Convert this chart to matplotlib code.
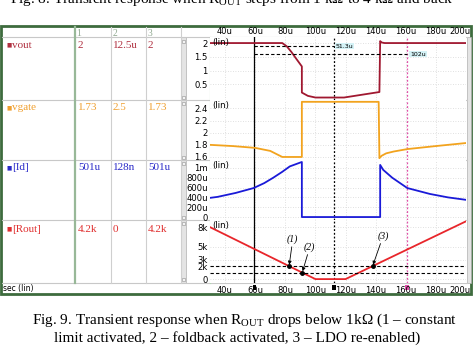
import matplotlib
matplotlib.use('Agg')
import matplotlib.pyplot as plt
import numpy as np
from matplotlib.patches import Rectangle
from matplotlib.transforms import blended_transform_factory, ScaledTranslation

plt.rcParams['mathtext.fontset'] = 'custom'
plt.rcParams['mathtext.rm'] = 'Liberation Serif'
plt.rcParams['mathtext.it'] = 'Liberation Serif:italic'

# --- data (time in us) ---
t_vout = [30, 78, 81, 84, 87, 91, 91, 95, 100, 119, 142.5, 143, 144, 146, 200]
vout = [2.0, 2.0, 1.88, 1.68, 1.45, 1.15, 0.2, 0.08, 0.02, 0.02, 0.22, 2.07, 2.02, 2.0, 2.0]

t_vgate = [30, 45, 60, 70, 78, 91, 91, 142, 142.5, 144, 147, 152, 161, 180, 200]
vgate = [1.80, 1.78, 1.75, 1.70, 1.60, 1.60, 2.51, 2.51, 1.58, 1.62, 1.66, 1.69, 1.73, 1.78, 1.83]

t_id = [30, 35, 47, 59, 66, 72, 78, 83, 91, 91, 143, 143, 145, 151, 161, 176, 188, 200]
id_ma = [0.39, 0.41, 0.49, 0.59, 0.69, 0.80, 0.92, 1.03, 1.12, 0.0, 0.0, 1.06, 0.96, 0.80, 0.59, 0.47, 0.40, 0.35]

t_rout = [30, 100, 120, 200]
rout_k = [8.0, 0.0, 0.0, 8.9]

cursors = [59.5, 112.5, 161]
limits_k = [2, 1]           # constant limit / foldback thresholds
events = ['(1)', '(2)', '(3)']

xticks = [40, 60, 80, 100, 120, 140, 160, 180, 200]
xlabels = ['40u', '60u', '80u', '100u', '120u', '140u', '160u', '180u', '200u']

rows = ['vout', 'vgate', '[Id]', '[Rout]']
row_colors = ['#b03040', '#f0a030', '#2a2ac8', '#e03030']
cells = [['2', '12.5u', '2'], ['1.73', '2.5', '1.73'],
         ['501u', '128n', '501u'], ['4.2k', '0', '4.2k']]

W, H = 474, 346
fig = plt.figure(figsize=(W / 100, H / 100), dpi=100)
bg = fig.add_axes([0, 0, 1, 1])
bg.set_xlim(0, W)
bg.set_ylim(H, 0)
bg.axis('off')

serif = ['Liberation Serif', 'DejaVu Serif']

# captions (the top one belongs to the previous figure and is cut off)
bg.text(232, -1.5, 'Fig. 8. Transient response when R$_{\\mathrm{OUT}}$ steps from 1 k\u03a9 to 4 k\u03a9 and back',
        ha='center', va='center', fontsize=11, family=serif)
bg.text(244, 320, 'Fig. 9. Transient response when R$_{\\mathrm{OUT}}$ drops below 1k\u03a9 (1 \u2013 constant',
        ha='center', va='center', fontsize=11, family=serif)
bg.text(237, 338, 'limit activated, 2 \u2013 foldback activated, 3 \u2013 LDO re-enabled)',
        ha='center', va='center', fontsize=11, family=serif)

# frame and table
bg.add_patch(Rectangle((1, 26), 470, 268, fill=False, ec='#3d6b3d', lw=2))
for y in [37, 100, 160, 220, 283]:
    bg.plot([2, 467], [y, y], color='#c8c8c8', lw=0.8)
bg.plot([75, 75], [27, 283], color='#98b898', lw=1.6)
for x in [111, 146, 181]:
    bg.plot([x, x], [27, 283], color='#cfcfcf', lw=0.8)
bg.add_patch(Rectangle((181, 37), 5, 246, fc='#e4e4e4', ec='#b0b0b0', lw=0.5))
bg.add_patch(Rectangle((467, 37), 4, 246, fc='#e4e4e4', ec='#b0b0b0', lw=0.5))
for y in [41, 97, 103, 157, 163, 217, 223, 279]:
    bg.add_patch(Rectangle((182, y - 1.5), 3, 3, fc='#f4f4f4', ec='#909090', lw=0.4))
bg.plot([210, 210], [37, 283], color='#b0d8b0', lw=0.8)

for x, h in zip([79, 115, 150], ['1', '2', '3']):
    bg.text(x, 33, h, ha='center', va='center', fontsize=7, color='#90a890', family=serif)
row_y = [45, 108, 168, 229]
for name, col, vals, y in zip(rows, row_colors, cells, row_y):
    bg.text(7, y, '\u25a0', ha='left', va='center', fontsize=4, color=col, family='DejaVu Sans')
    bg.text(12, y, name, ha='left', va='center', fontsize=8, color=col, family=serif)
    for x, v in zip([78, 113, 148], vals):
        bg.text(x, y, v, ha='left', va='center', fontsize=8, color=col, family=serif)
bg.text(3, 289, 'sec (lin)', ha='left', va='center', fontsize=5.5)


def panel(top, bot, ylim, yt, ytl):
    ax = fig.add_axes([210 / W, 1 - bot / H, 256 / W, (bot - top) / H])
    ax.set_xlim(30, 200)
    ax.set_ylim(*ylim)
    for s in ax.spines.values():
        s.set_visible(False)
    ax.set_xticks(xticks)
    ax.set_xticklabels(xlabels)
    ax.set_yticks(yt)
    ax.set_yticklabels(ytl)
    ax.tick_params(axis='y', length=0, pad=1.5, labelsize=6.1)
    ax.tick_params(axis='x', length=0, labelbottom=False, labelsize=6)
    ax.grid(True, color='#d6d6d6', ls=(0, (1, 2)), lw=0.6)
    ax.text(0.008, 0.985, '(lin)', transform=ax.transAxes, ha='left', va='top', fontsize=6.2)
    ax.axvline(cursors[0], color='k', lw=0.9)
    ax.axvline(cursors[1], color='k', lw=0.9, ls=(0, (1.5, 1.5)))
    ax.axvline(cursors[2], color='#e050a8', lw=0.9, ls=(0, (1.5, 1.5)))
    return ax


ax1 = panel(37, 100, (-0.07, 2.22), [2, 1.5, 1, 0.5], ['2', '1.5', '1', '0.5'])
ax2 = panel(100, 160, (1.55, 2.54), [2.4, 2.2, 2.0, 1.8, 1.6], ['2.4', '2.2', '2', '1.8', '1.6'])
ax3 = panel(160, 220, (-0.06, 1.16), [1, 0.8, 0.6, 0.4, 0.2, 0],
            ['1m', '800u', '600u', '400u', '200u', '0'])
ax4 = panel(220, 283, (-0.6, 9.1), [8, 5, 3, 2, 0], ['8k', '5k', '3k', '2k', '0'])

ax1.tick_params(axis='x', labeltop=True, pad=1)
ax4.tick_params(axis='x', labelbottom=True, pad=2)
shift = ScaledTranslation(-6 / 100, 0, fig.dpi_scale_trans)
for lab in ax1.get_xticklabels()[-1:] + ax4.get_xticklabels()[-1:]:
    lab.set_transform(lab.get_transform() + shift)

ax1.plot(t_vout, vout, color='#a01830', lw=1.3)
ax2.plot(t_vgate, vgate, color='#f2a31e', lw=1.3)
ax3.plot(t_id, id_ma, color='#1a1ad8', lw=1.3)
ax4.plot(t_rout, rout_k, color='#e8262b', lw=1.3)

# delta measurement lines
ax1.plot([cursors[0], cursors[1]], [1.89, 1.89], color='k', lw=0.8, ls=(0, (3, 2)))
ax1.plot([cursors[0], cursors[2]], [1.60, 1.60], color='k', lw=0.8, ls=(0, (3, 2)))
ax1.text(cursors[1] + 1, 1.89, '51.3u', fontsize=4.5, va='center', ha='left',
         bbox=dict(fc='#d4f2f6', ec='none', pad=0.6))
ax1.text(cursors[2] + 2, 1.60, '102u', fontsize=4.5, va='center', ha='left',
         bbox=dict(fc='#d4f2f6', ec='none', pad=0.6))

# threshold lines and events
for lv in limits_k:
    ax4.axhline(lv, color='k', lw=0.8, ls=(0, (3, 2)))
t1 = np.interp(-limits_k[0], [-r for r in rout_k[:2]], t_rout[:2])
t2 = np.interp(-limits_k[1], [-r for r in rout_k[:2]], t_rout[:2])
t3 = np.interp(limits_k[0], rout_k[2:], t_rout[2:])
ev_t = [t1, t2, t3]
ev_r = [limits_k[0], limits_k[1], limits_k[0]]
ax4.plot(ev_t, ev_r, 'o', color='k', ms=2.5)
for lab, et, er, dx, dy in zip(events, ev_t, ev_r, [2.5, 5, 7], [3.4, 3.2, 3.9]):
    ax4.annotate(lab, xy=(et, er), xytext=(et + dx, er + dy), fontsize=7, style='italic',
                 family=serif, ha='center', va='bottom',
                 arrowprops=dict(arrowstyle='-|>', lw=0.6, color='k', mutation_scale=5,
                                 shrinkA=0, shrinkB=1))

# cursor flags on the bottom axis (small markers, no text)
tr = blended_transform_factory(ax4.transData, bg.transData)
for c, col in zip(cursors, ['k', 'k', '#e050a8']):
    bg.add_patch(Rectangle((c - 1.2, 285), 2.4, 5, transform=tr, fc=col, ec='none'))

fig.savefig('out.png', dpi=100)
